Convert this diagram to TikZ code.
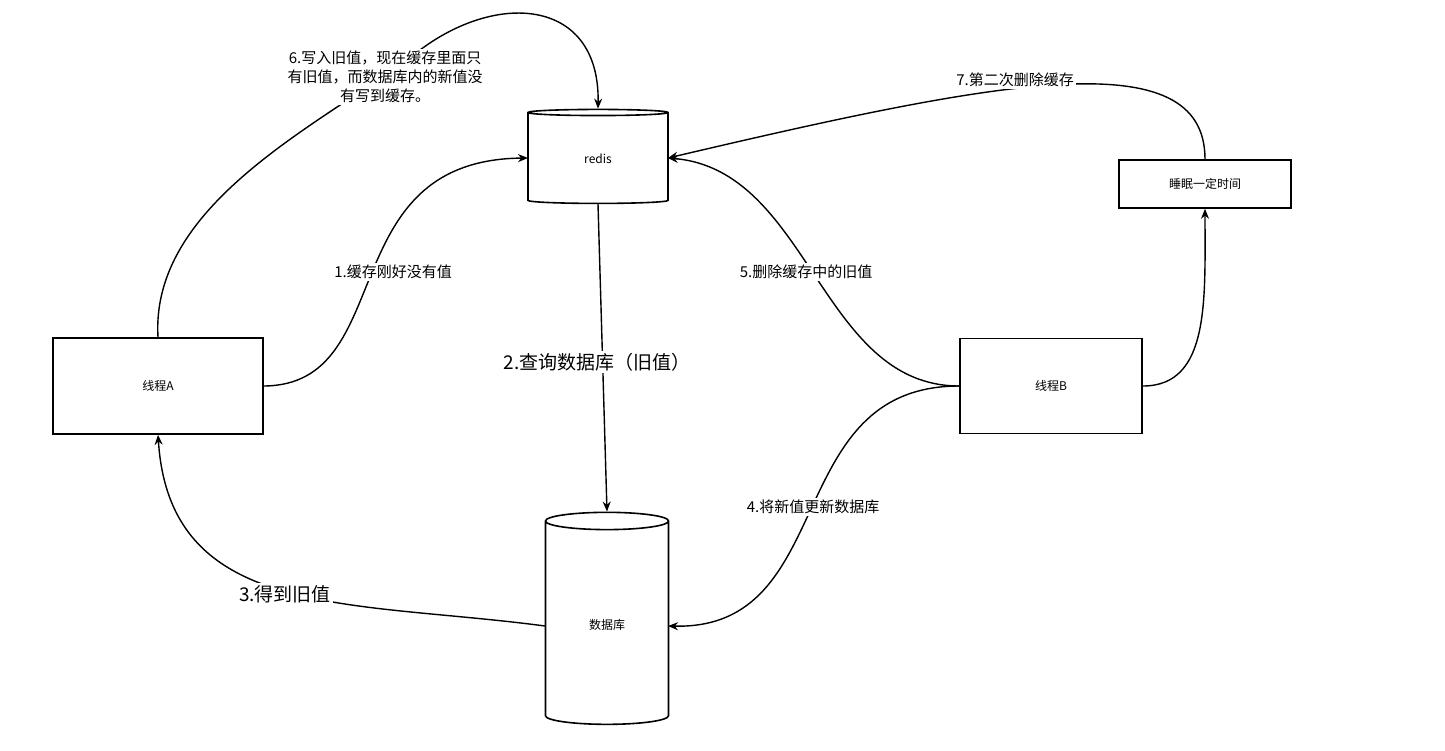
\documentclass[tikz,border=0pt]{standalone}
\usepackage{fontspec}
\setmainfont{Noto Sans CJK SC}
\usetikzlibrary{shapes.geometric,arrows.meta}
\begin{document}
\begin{tikzpicture}[x=0.5pt,y=-0.5pt,
  box/.style={draw,line width=0.8pt,minimum width=#1,inner sep=0pt},
  lbl/.style={font=\fontsize{7.5}{9.5}\selectfont,fill=white,inner sep=1pt},
  big/.style={font=\fontsize{9.5}{11}\selectfont,fill=white,inner sep=1pt},
  con/.style={line width=0.7pt,-{Stealth[length=5pt,width=4pt]}},
  small/.style={font=\fontsize{6}{7}\selectfont}]
\useasboundingbox (0,0) rectangle (1445,750);
\node[draw,line width=0.8pt,minimum width=105pt,minimum height=48pt,small] (A) at (158,386) {线程A};
\node[draw,line width=0.8pt,minimum width=91pt,minimum height=47.5pt,small] (B) at (1051,386) {线程B};
\node[draw,line width=0.8pt,minimum width=86pt,minimum height=24pt,small] (S) at (1205,184) {睡眠一定时间};
\node[cylinder,shape border rotate=90,draw,line width=0.8pt,minimum width=70pt,minimum height=47pt,aspect=0.15,small] (R) at (598,159) {redis};
\node[cylinder,shape border rotate=90,draw,line width=0.8pt,minimum width=61.5pt,minimum height=106pt,aspect=0.35,small] (D) at (607,625) {数据库};
\coordinate (Rl) at (528,158); \coordinate (Rr) at (668,158);
\coordinate (Dl) at (545,626); \coordinate (Dr) at (668,626);
\draw[con] (A.east) .. controls (400,385) and (330,160) .. (Rl);
\draw[con] (R.bottom) -- (D.top);
\draw[con] (Dl) .. controls (350,600) and (170,620) .. (A.south);
\draw[con] (B.west) .. controls (780,386) and (840,630) .. (Dr);
\draw[con] (B.west) .. controls (820,386) and (810,170) .. (Rr);
\draw[con] (A.north) .. controls (150,200) and (330,120) .. (420,50) .. controls (500,-10) and (600,0) .. (R.top);
\draw[con] (S.north) .. controls (1205,40) and (1000,80) .. (Rr);
\draw[con] (B.east) .. controls (1210,386) and (1205,300) .. (S.south);
\node[lbl] at (393,272) {1.缓存刚好没有值};
\node[big] at (597,362) {2.查询数据库（旧值）};
\node[big] at (285,594) {3.得到旧值};
\node[lbl] at (813,507) {4.将新值更新数据库};
\node[lbl] at (806,272) {5.删除缓存中的旧值};
\node[lbl,align=center] at (385,77) {6.写入旧值，现在缓存里面只\\有旧值，而数据库内的新值没\\有写到缓存。};
\node[lbl] at (1015,80) {7.第二次删除缓存};
\end{tikzpicture}
\end{document}
